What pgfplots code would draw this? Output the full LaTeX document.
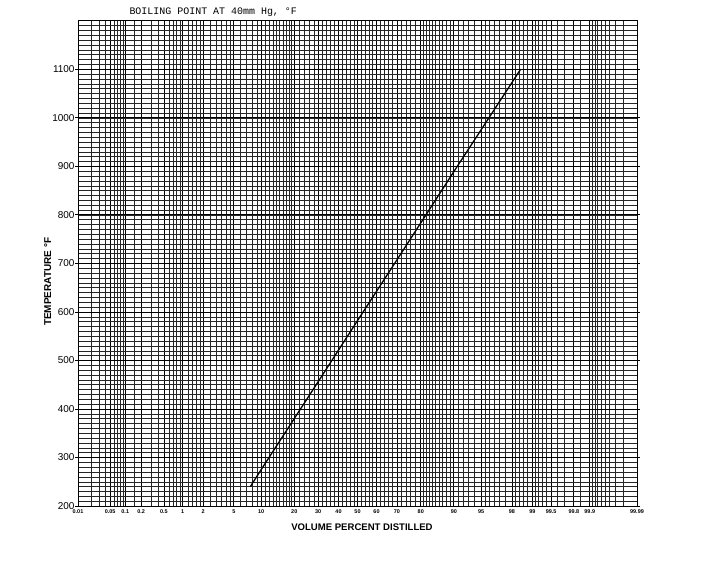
\documentclass[border=0pt]{standalone}
\usepackage{pgfplots}
\pgfplotsset{compat=1.18}
\usepackage{fontspec}
\setmainfont{Liberation Sans}
\newfontfamily\titlefont{Liberation Mono}

\begin{document}
\begin{tikzpicture}
\useasboundingbox (-78bp,-60bp) rectangle (645bp,506bp);
\begin{axis}[
	scale only axis, width=559bp, height=485.3bp,
	% normal probability scale: percent -> standard normal quantile
	x coord trafo/.code={%
		\begingroup
		\pgfkeys{/pgf/fpu=true,/pgf/fpu/output format=fixed}%
		\pgfmathparse{min(#1,100-#1)/100}\let\q\pgfmathresult
		\pgfmathparse{sqrt(-2*ln(\q))}\let\t\pgfmathresult
		\pgfmathparse{(\t-(2.515517+0.802853*\t+0.010328*\t*\t)/(1+1.432788*\t+0.189269*\t*\t+0.001308*\t*\t*\t))*((#1<50)?-1:1)}%
		\global\let\probitresult\pgfmathresult
		\endgroup
		\let\pgfmathresult\probitresult},
	xmin=0.01, xmax=99.99, ymin=200, ymax=1200,
	xtick={0.01,0.05,0.1,0.2,0.5,1,2,5,10,20,30,40,50,60,70,80,90,95,98,99,99.5,99.8,99.9,99.99},
	xticklabels={0.01,0.05,0.1,0.2,0.5,1,2,5,10,20,30,40,50,60,70,80,90,95,98,99,99.5,99.8,99.9,99.99},
	minor xtick={0.02,0.03,0.04,0.06,0.07,0.08,0.09,0.15,0.3,0.4,0.6,0.7,0.8,0.9,
		1.2,1.4,1.6,1.8,2.5,3,3.5,4,4.5,6,7,8,9,11,12,13,14,15,16,17,18,19,
		22,24,26,28,32,34,36,38,42,44,46,48,52,54,56,58,62,64,66,68,72,74,76,78,
		81,82,83,84,85,86,87,88,89,91,92,93,94,95.5,96,96.5,97,97.5,
		98.2,98.4,98.6,98.8,99.1,99.2,99.3,99.4,99.6,99.7,99.85,
		99.91,99.92,99.93,99.94,99.95,99.96,99.97,99.98},
	ytick={200,300,...,1100},
	minor ytick={210,220,...,1190},
	grid=both,
	major grid style={black, line width=0.75pt},
	minor grid style={black!85, line width=0.35pt},
	axis line style={black, line width=1pt},
	tick align=outside,
	major tick length=2.5bp, minor tick length=0pt,
	xtick style={draw=none},
	ytick style={black, line width=0.75pt},
	/pgf/number format/assume math mode=true,
	/pgf/number format/1000 sep={},
	xticklabel style={font=\fontsize{5.5}{6}\selectfont\bfseries, inner sep=1.3bp},
	yticklabel style={font=\fontsize{10}{12}\selectfont, inner sep=0.8bp},
	xlabel={VOLUME PERCENT DISTILLED},
	ylabel={TEMPERATURE °F},
	every axis x label/.style={at={(axis description cs:0.508,-0.043)}, anchor=center,
		font=\fontsize{9.6}{11}\selectfont\bfseries},
	every axis y label/.style={at={(axis description cs:-0.054,0.462)}, anchor=center,
		rotate=90, font=\fontsize{10}{12}\selectfont\bfseries},
]
\addplot[black, line width=1.3pt] coordinates {
	(7.7,240) (10,275) (30,456) (50,582) (70,707) (90,889) (98.5,1100)
};
\end{axis}
\node[anchor=west, font=\titlefont\fontsize{10}{12}\selectfont] at (48bp,494bp) {BOILING POINT AT 40mm Hg, °F};
\end{tikzpicture}
\end{document}
